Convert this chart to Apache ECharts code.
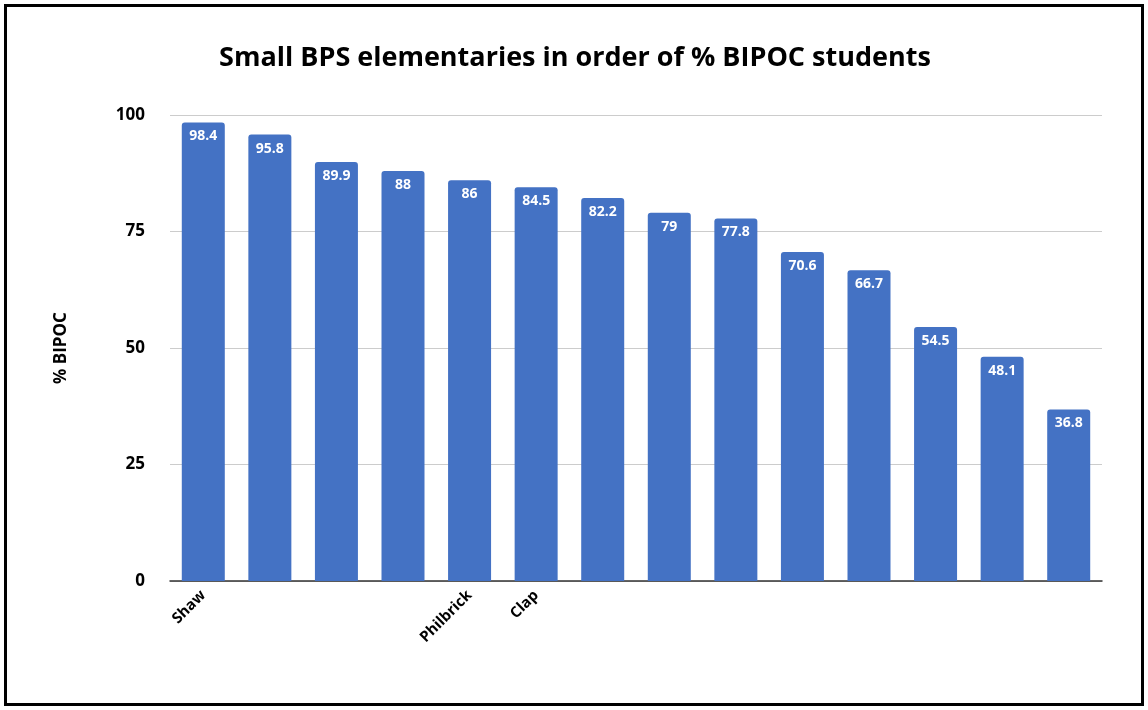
<!DOCTYPE html>
<html><head><meta charset="utf-8">
<script src="https://cdn.jsdelivr.net/npm/echarts@6/dist/echarts.min.js"></script>
<style>html,body{margin:0;padding:0;background:#fff}
#b{position:absolute;left:4px;top:4px;width:1134px;height:696px;border:3px solid #000}
#c{position:absolute;left:0;top:0;width:1148px;height:710px}</style>
</head><body><div id="b"></div><div id="c"></div>
<script>
const categories = ["Shaw","","","","Philbrick","Clap","","","","","","","",""];
const values = [98.4,95.8,89.9,88,86,84.5,82.2,79,77.8,70.6,66.7,54.5,48.1,36.8];
const yTicks = [0,25,50,75,100];
const chart = echarts.init(document.getElementById('c'));
const F = "Open Sans, Liberation Sans, sans-serif";
chart.setOption({
  title:{text:"Small BPS elementaries in order of % BIPOC students",left:570,top:40,textAlign:'center',
    textStyle:{fontFamily:F,fontSize:27,fontWeight:'bold',color:'#000'}},
  grid:{left:170,right:46,top:115,bottom:129},
  xAxis:{type:'category',data:categories,axisTick:{show:false},
    axisLine:{lineStyle:{color:'#333',width:1.5}},
    axisLabel:{interval:0,rotate:45,fontFamily:F,fontWeight:'bold',fontSize:15,color:'#000',margin:12}},
  yAxis:{type:'value',min:yTicks[0],max:yTicks[yTicks.length-1],interval:25,
    name:'% BIPOC',nameLocation:'middle',nameGap:100,nameRotate:90,
    nameTextStyle:{fontFamily:F,fontWeight:'bold',fontSize:17,color:'#000'},
    axisLabel:{fontFamily:F,fontWeight:'bold',fontSize:17,color:'#000',margin:25},
    splitLine:{lineStyle:{color:'#ccc'}},axisLine:{show:false},axisTick:{show:false}},
  series:[{type:'bar',data:values,barWidth:43,
    itemStyle:{color:'#4472c4',borderRadius:[3,3,0,0]},
    label:{show:true,position:'insideTop',offset:[0,2],color:'#fff',fontFamily:F,fontWeight:'bold',fontSize:14}}]
});
</script></body></html>
